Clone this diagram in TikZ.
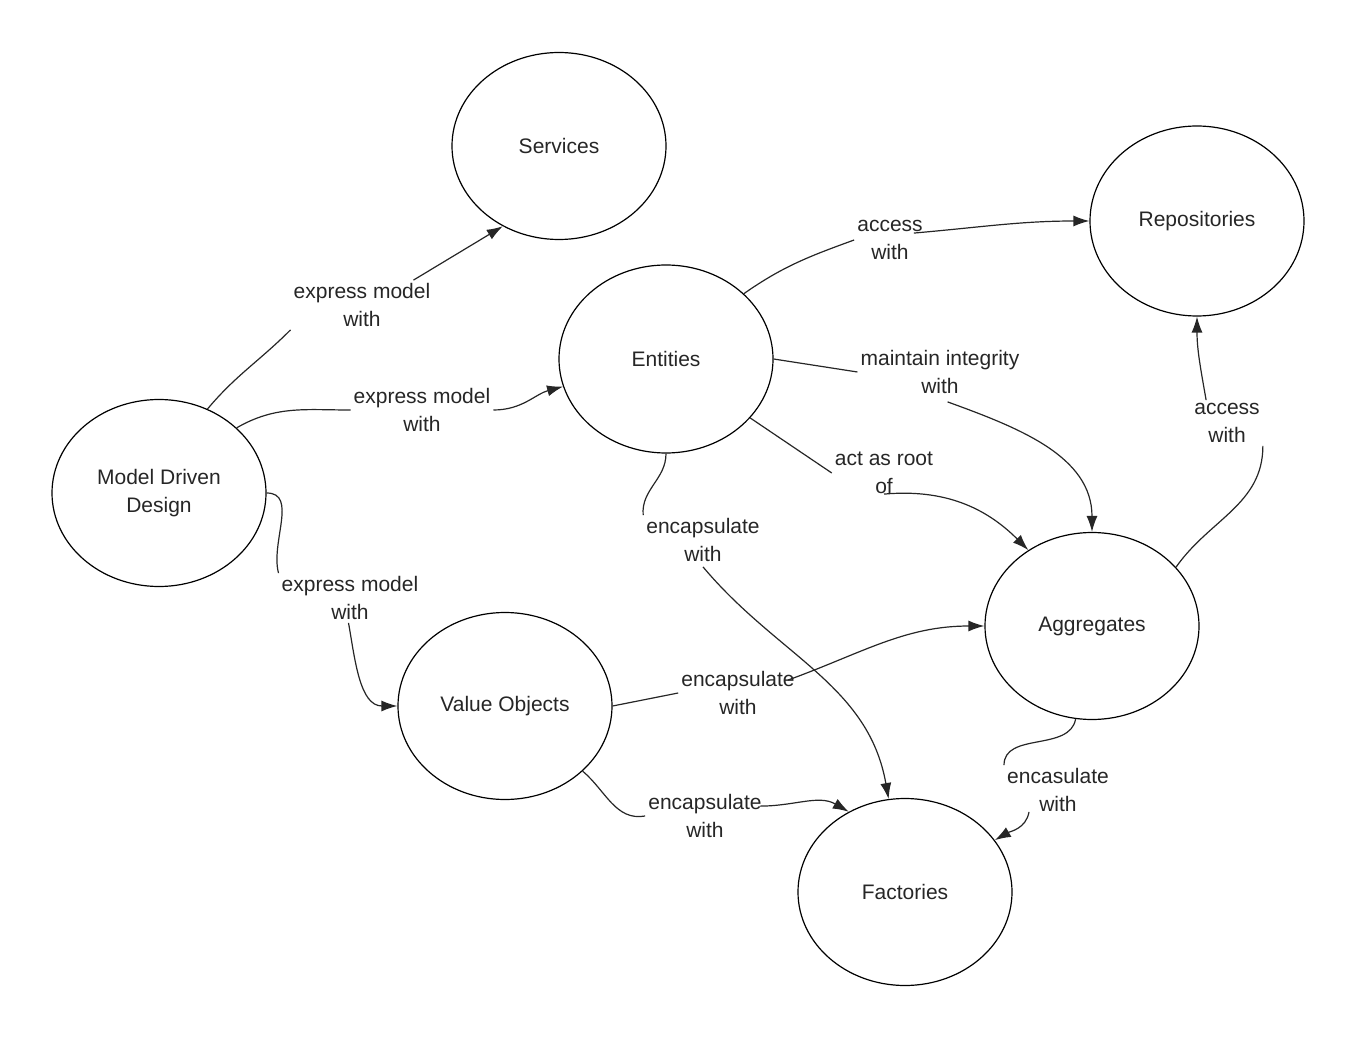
\documentclass[tikz,border=0pt]{standalone}
\usepackage{fontspec}
\setmainfont{Liberation Sans}
\usetikzlibrary{arrows.meta,shapes.geometric}
\begin{document}
\begin{tikzpicture}[x=1pt,y=-1pt,
  circ/.style={draw,line width=1.2pt,ellipse,minimum width=214pt,minimum height=187pt,inner sep=0pt,font=\fontsize{21}{28}\selectfont,align=center,text=black!85},
  lab/.style={font=\fontsize{21}{28}\selectfont,align=center,inner sep=3pt,text=black!85},
  edge/.style={line width=1.2pt,draw=black!85},
  arr/.style={edge,-{Latex[length=16pt,width=11pt]}}]
\useasboundingbox (0,0) rectangle (1358,1040);
\node[circ] (svc) at (559,146) {Services};
\node[circ,minimum height=190pt] (rep) at (1197,221) {Repositories};
\node[circ,minimum height=188pt] (ent) at (666,359) {Entities};
\node[circ] (mdd) at (159,493) {Model Driven\\ Design};
\node[circ] (agg) at (1092,626) {Aggregates};
\node[circ] (vo) at (505,706) {Value Objects};
\node[circ] (fac) at (905,892) {Factories};

\node[lab] (l1) at (362,305) {express model\\with};
\node[lab] (l2) at (422,410) {express model\\with};
\node[lab] (l3) at (350,598) {express model\\with};
\node[lab] (l4) at (890,240) {access\\with};
\node[lab] (l5) at (940,372) {maintain integrity\\with};
\node[lab] (l6) at (884,473) {act as root\\of};
\node[lab] (l7) at (703,540) {encapsulate\\with};
\node[lab] (l8) at (738,693) {encapsulate\\with};
\node[lab] (l9) at (705,816) {encapsulate\\with};
\node[lab] (l10) at (1058,790) {encasulate\\with};
\node[lab] (l11) at (1227,423) {access\\with};

\draw[edge] (mdd.60) to[out=50,in=-135] (l1.north west |- l1.south);
\draw[arr] (l1.north east) ++(-20,0) -- (svc.-125);
\draw[edge] (mdd.40) to[out=30,in=180] (l2.west);
\draw[arr] (l2.east) to[out=0,in=195] (ent.195);
\draw[edge] (mdd.east) to[out=0,in=105] (l3.north west);
\draw[arr] (l3.south west) ++(70,0) to[out=-80,in=180] (vo.west);
\draw[edge] (ent.40) to[out=35,in=200] (l4.west);
\draw[arr] (l4.north east) ++(-12,16) to[out=5,in=180] (rep.west);
\draw[edge] (ent.east) -- (l5.west);
\draw[arr] (l5.south east) ++(-75,5) to[out=-20,in=90] (agg.north);
\draw[edge] (ent.-35) -- (l6.west);
\draw[arr] (l6.south) ++(0,-3) to[out=5,in=135] (agg.130);
\draw[edge] (ent.south) to[out=-90,in=95] (l7.north west);
\draw[arr] (l7.south) ++(0,2) to[out=-50,in=100] (fac.100);
\draw[edge] (vo.east) -- (l8.west);
\draw[arr] (l8.north east) ++(-10,12) to[out=20,in=180] (agg.west);
\draw[edge] (vo.-40) to[out=-40,in=190] (l9.west);
\draw[arr] (l9.north east) ++(-5,15) to[out=0,in=150] (fac.125);
\draw[edge] (agg.-100) to[out=-100,in=90] (l10.north west);
\draw[arr] (l10.south west) ++(25,-3) to[out=-100,in=30] (fac.30);
\draw[edge] (agg.35) to[out=55,in=-90] (l11.south east);
\draw[arr] (l11.north west) ++(15,0) to[out=100,in=-90] (rep.-90);
\end{tikzpicture}
\end{document}
